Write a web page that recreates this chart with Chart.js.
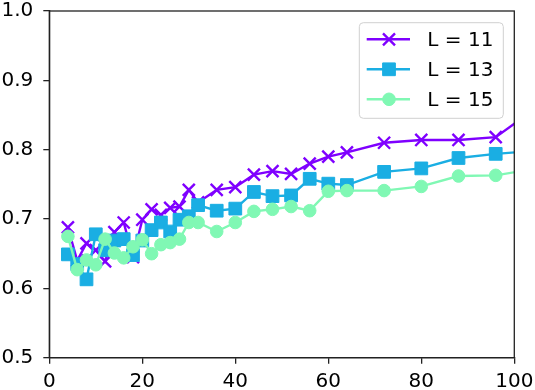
<!DOCTYPE html>
<html>
<head>
<meta charset="utf-8">
<script src="https://cdn.jsdelivr.net/npm/chart.js@4/dist/chart.umd.min.js"></script>
<style>
  html, body { margin: 0; padding: 0; background: #fff; }
  canvas { display: block; }
</style>
</head>
<body>
<canvas id="c" width="535" height="390"></canvas>
<script>
// ---- data ----
const xValues = [4, 6, 8, 10, 12, 14, 16, 18, 20, 22, 24, 26, 28, 30, 32, 36, 40, 44, 48, 52, 56, 60, 64, 72, 80, 88, 96, 104];
const seriesL11 = [0.688, 0.640, 0.665, 0.655, 0.639, 0.681, 0.695, 0.645, 0.699, 0.714, 0.706, 0.716, 0.718, 0.742, 0.724, 0.742, 0.746, 0.764, 0.769, 0.765, 0.780, 0.790, 0.796, 0.810, 0.814, 0.814, 0.818, 0.857];
const seriesL13 = [0.649, 0.635, 0.613, 0.678, 0.655, 0.669, 0.671, 0.648, 0.669, 0.684, 0.695, 0.682, 0.699, 0.704, 0.720, 0.712, 0.715, 0.739, 0.733, 0.734, 0.758, 0.751, 0.749, 0.768, 0.773, 0.788, 0.794, 0.798];
const seriesL15 = [0.675, 0.627, 0.641, 0.634, 0.671, 0.651, 0.644, 0.660, 0.670, 0.650, 0.663, 0.666, 0.671, 0.695, 0.695, 0.682, 0.695, 0.711, 0.714, 0.718, 0.712, 0.740, 0.741, 0.741, 0.747, 0.762, 0.763, 0.772];
const seriesNames = ['L = 11', 'L = 13', 'L = 15'];
const xTicks = [0, 20, 40, 60, 80, 100];
const yTicks = [0.5, 0.6, 0.7, 0.8, 0.9, 1.0];

const colors = ['#7f00ff', '#1aaee3', '#80f8b4'];
const styles = [
  { pointStyle: 'crossRot', pointRadius: 8.5, pointBorderWidth: 2.4 },
  { pointStyle: 'rect', pointRadius: 9, pointBorderWidth: 1 },
  { pointStyle: 'circle', pointRadius: 6.3, pointBorderWidth: 1 }
];
const allSeries = [seriesL11, seriesL13, seriesL15];

const datasets = allSeries.map((s, i) => ({
  label: seriesNames[i],
  data: xValues.map((x, j) => ({ x: x, y: s[j] })),
  borderColor: colors[i],
  backgroundColor: colors[i],
  pointBackgroundColor: colors[i],
  pointBorderColor: colors[i],
  borderWidth: 2.4,
  pointStyle: styles[i].pointStyle,
  pointRadius: styles[i].pointRadius,
  pointBorderWidth: styles[i].pointBorderWidth,
  tension: 0,
  order: 3 - i
}));

const FONT = 'DejaVu Sans';
const AX = '#222';

const framePlugin = {
  id: 'frame',
  afterDatasetsDraw(chart) {
    const a = chart.chartArea, ctx = chart.ctx;
    ctx.save();
    ctx.strokeStyle = AX;
    ctx.lineWidth = 1.3;
    ctx.strokeRect(a.left, a.top, a.right - a.left, a.bottom - a.top);
    ctx.restore();
  }
};

const legendPlugin = {
  id: 'boxLegend',
  afterDraw(chart) {
    const a = chart.chartArea, ctx = chart.ctx;
    const bx = a.right - 155, by = a.top + 11.7, bw = 144, bh = 95.6;
    ctx.save();
    ctx.beginPath();
    ctx.roundRect(bx, by, bw, bh, 4);
    ctx.fillStyle = 'rgba(255,255,255,0.85)';
    ctx.fill();
    ctx.strokeStyle = '#d0d0d0';
    ctx.lineWidth = 1;
    ctx.stroke();
    chart.data.datasets.forEach((ds, i) => {
      const y = by + 16.6 + i * 30;
      ctx.strokeStyle = ds.borderColor;
      ctx.lineWidth = ds.borderWidth;
      ctx.beginPath();
      ctx.moveTo(bx + 7.4, y);
      ctx.lineTo(bx + 50.7, y);
      ctx.stroke();
      ctx.fillStyle = ds.pointBackgroundColor;
      ctx.strokeStyle = ds.pointBorderColor;
      ctx.lineWidth = ds.pointBorderWidth;
      Chart.helpers.drawPoint(ctx, {
        pointStyle: ds.pointStyle, radius: ds.pointRadius,
        borderWidth: ds.pointBorderWidth, rotation: 0
      }, bx + 29.7, y);
      ctx.fillStyle = '#000';
      ctx.font = '20px "' + FONT + '"';
      ctx.textBaseline = 'middle';
      ctx.textAlign = 'left';
      ctx.fillText(ds.label, bx + 68, y + 1);
    });
    ctx.restore();
  }
};

new Chart(document.getElementById('c'), {
  type: 'line',
  data: { datasets: datasets },
  plugins: [framePlugin, legendPlugin],
  options: {
    responsive: false,
    animation: false,
    devicePixelRatio: 1,
    layout: { padding: { top: 11, right: 20.7, left: 0, bottom: 0 } },
    plugins: { legend: { display: false }, tooltip: { enabled: false } },
    scales: {
      x: {
        type: 'linear',
        min: 0, max: 100,
        afterBuildTicks(scale) { scale.ticks = xTicks.map(v => ({ value: v })); },
        afterFit(scale) { scale.height = 32.3; scale.paddingLeft = 0; scale.paddingRight = 0; },
        ticks: {
          font: { family: FONT, size: 20, lineHeight: 1 },
          color: '#000',
          padding: 8,
          maxRotation: 0,
          callback: v => String(v)
        },
        grid: { display: true, drawOnChartArea: false, drawTicks: true, tickLength: 6, color: AX, lineWidth: 1.3 },
        border: { display: true, color: AX, width: 1.3 }
      },
      y: {
        type: 'linear',
        min: 0.5, max: 1.0,
        afterBuildTicks(scale) { scale.ticks = yTicks.map(v => ({ value: v })); },
        afterFit(scale) { scale.width = 49.3; scale.paddingTop = 0; scale.paddingBottom = 0; },
        ticks: {
          font: { family: FONT, size: 20, lineHeight: 1 },
          color: '#000',
          padding: 10,
          callback: v => Number(v).toFixed(1)
        },
        grid: { display: true, drawOnChartArea: false, drawTicks: true, tickLength: 6, color: AX, lineWidth: 1.3 },
        border: { display: true, color: AX, width: 1.3 }
      }
    }
  }
});
</script>
</body>
</html>
